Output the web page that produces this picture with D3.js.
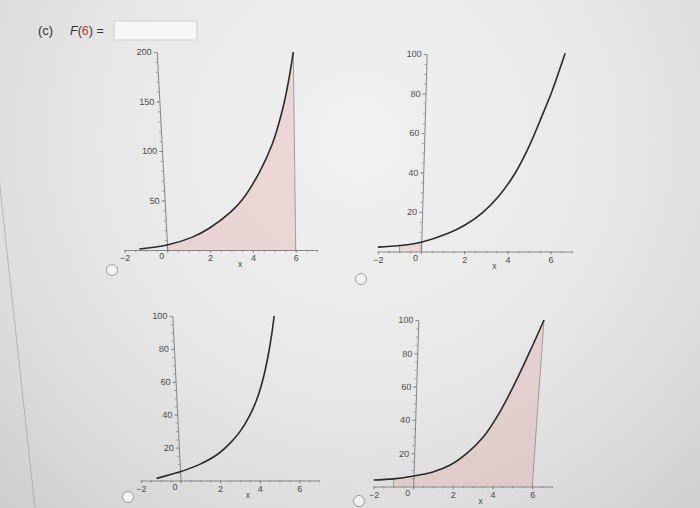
<!DOCTYPE html>
<html>
<head>
<meta charset="utf-8">
<script src="https://cdn.jsdelivr.net/npm/d3@7"></script>
<style>
html, body { margin: 0; padding: 0; }
body { width: 700px; height: 508px; overflow: hidden; }
svg { display: block; font-family: "Liberation Sans", Arial, sans-serif; }
</style>
</head>
<body>
<svg id="chart" width="700" height="508"></svg>
<script>
// tick labels shared by the four little plots
const xTicks = [-2, 0, 2, 4, 6];
const yTicksBig = [50, 100, 150, 200];
const yTicksSmall = [20, 40, 60, 80, 100];

// top left: the curve, shaded from 0 to 6
const aX = [-1.3, 0, 1.2, 2, 3, 3.6, 4.4, 5, 5.5, 5.75, 6];
const aY = [1, 5, 13, 22, 38, 51.5, 79, 107, 143, 168, 200];
const aShade = [0, 6];

// top right: shaded from -1 to 0
const bX = [-2, -1, 0, 1.23, 1.99, 2.73, 3.45, 4.16, 4.69, 5.21, 5.59, 6.07];
const bY = [2.2, 3, 4.7, 9.2, 13.4, 19.3, 27.7, 39.6, 52.3, 68.3, 80.9, 100.4];
const bShade = [-1, 0];

// bottom left: no shading
const cX = [-1.2, 0, 1, 1.87, 2.56, 3.08, 3.6, 3.95, 4.3, 4.57, 4.76, 4.9];
const cY = [1.3, 5.3, 9.8, 15.5, 22.6, 29.7, 39.8, 48.9, 62, 76, 88.5, 100];

// bottom right: shaded from -1 to 6
const dX = [-2, -1, 0, 1, 1.82, 2.62, 3.41, 4.16, 4.87, 5.55, 6];
const dY = [3.9, 4.6, 6.3, 8.9, 12.9, 19.9, 29.9, 45, 64, 85, 100];
const dShade = [-1, 6];

// where each plot sits on the (photographed, slightly keystoned) screen.
// bot/top = pixel x of x=0 and x=6 along the x axis and along the top of the y range
const panels = [
  { xs: aX, ys: aY, shade: aShade, yMax: 200, yTicks: yTicksBig, minor: 10,
    bot: [167.3, 295.7], top: [156.7, 293.3], yPx: [250, 52], radio: [112, 270] },
  { xs: bX, ys: bY, shade: bShade, yMax: 100, yTicks: yTicksSmall, minor: 5,
    bot: [421, 550.6], top: [426.7, 563.5], yPx: [251.5, 54], radio: [361, 279] },
  { xs: cX, ys: cY, shade: null, yMax: 100, yTicks: yTicksSmall, minor: 5,
    bot: [180.5, 299.3], top: [172.3, 297], yPx: [480.5, 316], radio: [128, 497] },
  { xs: dX, ys: dY, shade: dShade, yMax: 100, yTicks: yTicksSmall, minor: 5,
    bot: [413.2, 532.2], top: [418.3, 544], yPx: [486.5, 320], radio: [359, 501] }
];

const svg = d3.select('#chart');

// background: photo of a monitor, light in the middle, darker at the edges
const defs = svg.append('defs');
const bg = defs.append('radialGradient')
    .attr('id', 'bg')
    .attr('gradientUnits', 'userSpaceOnUse')
    .attr('cx', 360).attr('cy', 140).attr('r', 520);
[[0, '#f1f1f1'], [0.45, '#e9e9e9'], [0.75, '#dcdcdc'], [1, '#cdcdcd']]
    .forEach(function(s) { bg.append('stop').attr('offset', s[0]).attr('stop-color', s[1]); });

svg.append('rect')
    .attr('width', 700).attr('height', 508)
    .attr('fill', 'url(#bg)');

// edge of the screen on the left
svg.append('line')
    .attr('x1', -3).attr('y1', 160).attr('x2', 35).attr('y2', 508)
    .attr('stroke', '#9a9a9a').attr('stroke-width', 1).attr('opacity', 0.6);

// question header
svg.append('text')
    .attr('x', 38).attr('y', 35)
    .attr('font-size', 13).attr('fill', '#333')
    .text('(c)');

let head = svg.append('text')
    .attr('x', 70).attr('y', 35)
    .attr('font-size', 12.5).attr('fill', '#333');
head.append('tspan').attr('font-style', 'italic').text('F');
head.append('tspan').text('(');
head.append('tspan').attr('fill', '#c0392b').text('6');
head.append('tspan').text(') =');

svg.append('rect')
    .attr('x', 114).attr('y', 21).attr('width', 83).attr('height', 19)
    .attr('fill', '#f6f6f6').attr('stroke', '#cfcfcf').attr('stroke-width', 1);

panels.forEach(drawPanel);

function drawPanel(p) {
    let g = svg.append('g');

    let xB = d3.scaleLinear().domain([0, 6]).range(p.bot);
    let xT = d3.scaleLinear().domain([0, 6]).range(p.top);
    let yS = d3.scaleLinear().domain([0, p.yMax]).range(p.yPx);
    let tS = d3.scaleLinear().domain([0, p.yMax]).range([0, 1]);

    // x pixel drifts between the bottom and top scales (keystone of the photo)
    function px(x, y) { return d3.interpolateNumber(xB(x), xT(x))(tS(y)); }

    let pts = p.xs.map(function(x, i) { return { x: x, y: p.ys[i] }; });
    let smooth = d3.curveCatmullRom.alpha(0.5);

    // shaded region under the curve
    if (p.shade) {
        let inside = pts.filter(function(d) { return d.x >= p.shade[0] && d.x <= p.shade[1]; });
        let area = d3.area()
            .x0(function(d) { return px(d.x, 0); })
            .x1(function(d) { return px(d.x, d.y); })
            .y0(yS(0))
            .y1(function(d) { return yS(d.y); })
            .curve(smooth);
        g.append('path')
            .datum(inside)
            .attr('d', area)
            .attr('fill', '#e59a9a')
            .attr('fill-opacity', 0.28);

        // thin edges at both ends of the strip
        g.selectAll('line.edge')
            .data([inside[0], inside[inside.length - 1]])
            .enter().append('line')
            .attr('class', 'edge')
            .attr('x1', function(d) { return px(d.x, 0); })
            .attr('y1', yS(0))
            .attr('x2', function(d) { return px(d.x, d.y); })
            .attr('y2', function(d) { return yS(d.y); })
            .attr('stroke', '#8c8c8c').attr('stroke-width', 0.8);
    }

    // x axis along the bottom
    let xAxisScale = xB.copy().domain([-2, 7]).range([xB(-2), xB(7)]);
    let xAxis = g.append('g')
        .attr('transform', 'translate(0,' + yS(0) + ')')
        .call(d3.axisBottom(xAxisScale).tickValues(xTicks).tickSize(3).tickSizeOuter(0).tickPadding(2));
    g.append('g')
        .attr('transform', 'translate(0,' + yS(0) + ')')
        .call(d3.axisBottom(xAxisScale).tickValues(d3.range(-2, 7.01, 0.5)).tickSize(2).tickFormat(''))
        .call(function(a) { a.select('.domain').remove(); });
    xAxis.selectAll('text')
        .filter(function(d) { return d === 0; })
        .attr('dx', -6).attr('dy', '0.45em');

    // y axis, leaning with the photo
    let k = (p.top[0] - p.bot[0]) / (p.yPx[1] - p.yPx[0]);
    let e = p.bot[0] - k * p.yPx[0];
    let yg = g.append('g').attr('transform', 'matrix(1,0,' + k + ',1,' + e + ',0)');
    yg.append('g')
        .call(d3.axisLeft(yS).tickValues(p.yTicks).tickSize(3).tickSizeOuter(0).tickPadding(2));
    yg.append('g')
        .call(d3.axisLeft(yS).tickValues(d3.range(p.minor, p.yMax + 0.01, p.minor)).tickSize(2).tickFormat(''))
        .call(function(a) { a.select('.domain').remove(); });

    g.selectAll('.domain').attr('stroke', '#7a7a7a').attr('stroke-width', 0.9);
    g.selectAll('.tick line').attr('stroke', '#7a7a7a').attr('stroke-width', 0.7);
    g.selectAll('.tick text')
        .attr('fill', '#4a4a4a')
        .attr('font-size', 9)
        .attr('font-family', '"Liberation Sans", Arial, sans-serif');

    g.append('text')
        .attr('x', xB(3.4)).attr('y', yS(0) + 17)
        .attr('text-anchor', 'middle')
        .attr('font-size', 8.5).attr('fill', '#4a4a4a')
        .text('x');

    // the curve itself
    let line = d3.line()
        .x(function(d) { return px(d.x, d.y); })
        .y(function(d) { return yS(d.y); })
        .curve(smooth);
    g.append('path')
        .datum(pts)
        .attr('d', line)
        .attr('fill', 'none')
        .attr('stroke', '#2a2a2a')
        .attr('stroke-width', 1.6);

    // radio button for this choice
    svg.append('circle')
        .attr('cx', p.radio[0]).attr('cy', p.radio[1]).attr('r', 5.5)
        .attr('fill', '#f2f2f2')
        .attr('stroke', '#9c9c9c').attr('stroke-width', 1);
}
</script>
</body>
</html>
